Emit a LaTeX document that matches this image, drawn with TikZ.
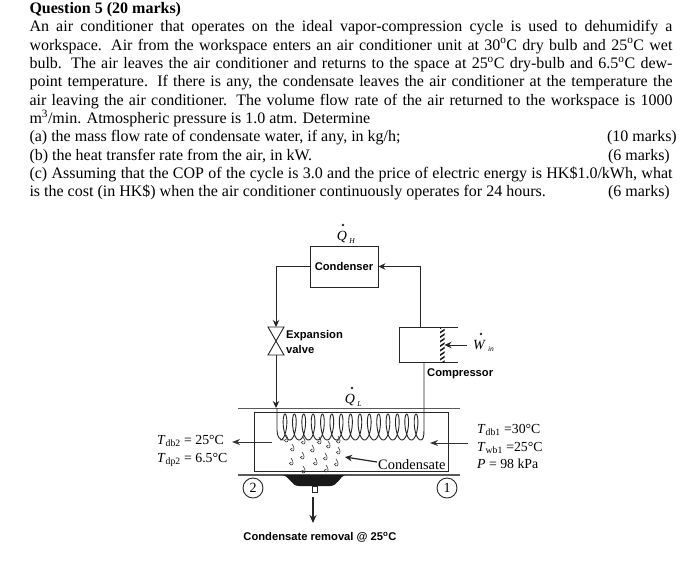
\documentclass[tikz,border=0pt]{standalone}
\usepackage{fontspec}
\setmainfont{Liberation Serif}
\setsansfont{Liberation Sans}
\usetikzlibrary{arrows.meta,patterns}
\tikzset{
  x=1pt,y=-1pt,
  body/.style={anchor=base west,inner sep=0pt,font=\fontsize{16}{18}\selectfont},
  bodyr/.style={anchor=base east,inner sep=0pt,font=\fontsize{16}{18}\selectfont},
  lab/.style={inner sep=0pt,font=\sffamily\bfseries\fontsize{11.2}{13}\selectfont},
  ser/.style={inner sep=0pt,font=\fontsize{13.8}{15}\selectfont},
  sym/.style={inner sep=0pt,font=\itshape\fontsize{14}{15}\selectfont},
  sub/.style={inner sep=0pt,font=\itshape\fontsize{7.5}{8}\selectfont},
  line/.style={draw=black!85,line width=0.9pt},
  arr/.style={line,-{Stealth[length=7pt,width=6.5pt]}},
  airline/.style={draw=black!65,line width=1.3pt,dash pattern=on 1.5pt off 0.5pt},
  airflow/.style={draw=black!80,line width=1pt,-{Stealth[length=8pt,width=6pt]}},
  drop/.style={draw=black!80,line width=0.6pt},
  state/.style={draw=black!85,circle,line width=0.9pt,minimum size=20pt,inner sep=0pt,font=\fontsize{14}{15}\selectfont},
}
\newcommand{\ljust}[1]{\makebox[643pt][s]{#1}}
\begin{document}
\begin{tikzpicture}
\useasboundingbox[fill=white] (0,0) rectangle (700,571);
\node[body] (t0) at (29.3,13.5) {\textbf{Question 5 (20 marks)}};
\node[body] (t1) at (29.3,31.8) {\ljust{An air conditioner that operates on the ideal vapor-compression cycle is used to dehumidify a}};
\node[body] (t2) at (29.3,50.1) {\ljust{workspace. Air from the workspace enters an air conditioner unit at 30\textsuperscript{o}C dry bulb and 25\textsuperscript{o}C wet}};
\node[body] (t3) at (29.3,68.5) {\ljust{bulb. The air leaves the air conditioner and returns to the space at 25\textsuperscript{o}C dry-bulb and 6.5\textsuperscript{o}C dew-}};
\node[body] (t4) at (29.3,86.8) {\ljust{point temperature. If there is any, the condensate leaves the air conditioner at the temperature the}};
\node[body] (t5) at (29.3,105.1) {\ljust{air leaving the air conditioner. The volume flow rate of the air returned to the workspace is 1000}};
\node[body] (t6) at (29.3,123.5) {m\textsuperscript{3}/min. Atmospheric pressure is 1.0 atm. Determine};
\node[body] (t7) at (29.3,141.8) {(a) the mass flow rate of condensate water, if any, in kg/h;};
\node[bodyr] (m7) at (677,141.8) {(10 marks)};
\node[body] (t8) at (29.3,160.1) {(b) the heat transfer rate from the air, in kW.};
\node[bodyr] (m8) at (670,160.1) {(6 marks)};
\node[body] (t9) at (29.3,178.5) {\ljust{(c) Assuming that the COP of the cycle is 3.0 and the price of electric energy is HK\$1.0/kWh, what}};
\node[body] (t10) at (29.3,196.8) {is the cost (in HK\$) when the air conditioner continuously operates for 24 hours.};
\node[bodyr] (m10) at (670,196.8) {(6 marks)};

% condenser
\node[line,draw,minimum width=68pt,minimum height=41pt,lab] (cond) at (344,266.5) {Condenser};
\node[sym] (qh) at (342,237) {Q};
\node[sub] (qhs) at (352,241.5) {H};
\fill[black!85] (343,225) circle (1.3pt);
% valve
\coordinate (vt) at (276,327);
\coordinate (vb) at (276,355);
\draw[line] (268,327) -- (284,327) -- (268,355) -- (284,355) -- cycle;
\draw[arr] (cond.west) -| (vt);
\node[lab,anchor=west] (exp) at (286,336) {Expansion};
\node[lab,anchor=west] (val) at (286,349) {valve};
% compressor
\coordinate (ctop) at (420,327.7);
\coordinate (cbot) at (424,362);
\draw[line] (458,327.7) -- (399,327.7) -- (399,362) -- (458,362);
\begin{scope}
  \clip (440,327.7) rectangle (444.5,362);
  \foreach \s in {0,4.5,...,45}{
    \draw[black!90,line width=1.5pt] (438,325+\s) -- (447,319+\s);
  }
\end{scope}
\coordinate (wend) at (467,345);
\coordinate (wtip) at (444.5,345);
\draw[arr] (wend) -- (wtip);
\node[sym] (win) at (479,345) {W};
\node[sub] (wins) at (491,349) {in};
\fill[black!85] (481,334) circle (1.3pt);
\node[lab,anchor=west] (comp) at (427,373.5) {Compressor};
\draw[arr] (ctop) |- (cond.east);
% evaporator
\node[line,draw,minimum width=194pt,minimum height=59pt] (evap) at (351,441.5) {};
\coordinate (atl) at (238,408.5);
\coordinate (atr) at (460,408.5);
\coordinate (abl) at (238,475);
\coordinate (abr) at (460,475);
\draw[airline] (atl) -- (atr);
\draw[airline] (abl) -- (abr);
\node[sym] (ql) at (350,400) {Q};
\node[sub] (qls) at (359.5,404.5) {L};
\fill[black!85] (352,388) circle (1.3pt);
\coordinate (ctl) at (276,408);
\draw[arr] (vb) -- (ctl);
% coil
\draw[line,line join=round] (420.7,440) .. controls (423,440) and (424,437) .. (424,430) -- (cbot);
\draw[line,line join=round] plot[domain=-180:5220,samples=500] ({285+0.026*\x-3.9*sin(\x)},{427-13*cos(\x)});
\draw[line,line join=round] (283.6,440) .. controls (280,440) and (277,437) .. (277,430) -- (277,408);
\coordinate (ol) at (272,442);
\coordinate (oltip) at (232,442);
\coordinate (ir) at (468,443);
\coordinate (irtip) at (430,443);
\draw[airflow] (ol) -- (oltip);
\draw[airflow] (ir) -- (irtip);
% side texts
\node[ser,anchor=base west] (l1) at (157,444) {\textit{T}\textsubscript{db2} = 25°C};
\node[ser,anchor=base west] (l2) at (157,462) {\textit{T}\textsubscript{dp2} = 6.5°C};
\node[ser,anchor=base west] (r1) at (477,433) {\textit{T}\textsubscript{db1} =30°C};
\node[ser,anchor=base west] (r2) at (477,451) {\textit{T}\textsubscript{wb1} =25°C};
\node[ser,anchor=base west] (r3) at (477,468) {\textit{P} = 98 kPa};
% drops
\foreach \x/\y in {286/439,303/441,319/441,328/445,338/440,
  292/448,312/449,338/451,302/456,325/457,
  291/462,315/462,336/463,303/470,326/469}{
  \draw[drop] (\x,\y-4) .. controls (\x+3,\y) and (\x+2.5,\y+3) .. (\x,\y+3) .. controls (\x-2.5,\y+3) and (\x-2,\y-0.5) .. (\x+0.5,\y);
}
\node[ser,anchor=base west,font=\fontsize{14.4}{15}\selectfont] (cn) at (378,469) {Condensate};
\coordinate (drp) at (345,457);
\coordinate (cnt) at (377,462);
\draw[arr,line width=1.2pt] (cnt) -- (drp);
% pan
\fill[black!90] (282,475) .. controls (290,476) and (291,486) .. (299,486) -- (330,486) .. controls (338,486) and (340,476) .. (345,475) -- cycle;
\draw[line,fill=white] (312.5,486) rectangle (317,492);
\coordinate (rs) at (313,497);
\coordinate (re) at (313,523);
\draw[-{Stealth[length=8pt,width=7pt]},line width=1.5pt,black!85] (rs) -- (re);
\node[lab,anchor=base] (rem) at (320,540) {Condensate removal @ 25\textsuperscript{o}C};
% state circles
\node[state] (s2) at (253,488) {2};
\node[state] (s1) at (447,488) {1};
\end{tikzpicture}
\end{document}
